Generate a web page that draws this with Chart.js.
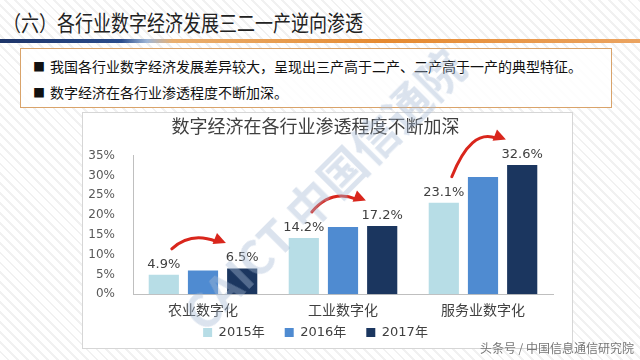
<!DOCTYPE html>
<html>
<head>
<meta charset="utf-8">
<script src="https://cdn.jsdelivr.net/npm/chart.js@4.4.1/dist/chart.umd.min.js"></script>
<style>
  html, body { margin: 0; padding: 0; }
  body {
    width: 640px; height: 360px; overflow: hidden; position: relative;
    background: repeating-linear-gradient(45deg, #ffffff 0 5px, #f1f1f1 5px 7px);
    font-family: "Noto Sans CJK SC", sans-serif;
  }
  #title {
    position: absolute; left: 3px; top: 6px;
    font-size: 18px; color: #222; letter-spacing: 0;
    transform: scaleY(1.18); transform-origin: left top;
  }
  #rule {
    position: absolute; left: 0; top: 39px; width: 640px; height: 4px;
    background: linear-gradient(90deg, #1d3468 0, #2b4d8c 19%, #9fb6d6 23%, #eab070 27%, #e68a30 60%, #eba461 100%);
  }
  #box {
    position: absolute; left: 20px; top: 48px; width: 590px; height: 58px;
    border: 1.5px solid #d9a36a; background: rgba(255,255,255,0.85);
    font-size: 14px; color: #111;
  }
  #box div { position: absolute; left: 12px; white-space: nowrap; }
  #box span { display: inline-block; width: 17px; font-size: 12px; }
  #panel {
    position: absolute; left: 82px; top: 112px; width: 489px; height: 235px;
    background: #fff; border: 1px solid #d6d6d6;
  }
  #wrap { position: absolute; left: 78px; top: 112px; width: 497px; height: 252px; }
  #mark {
    position: absolute; left: 322px; top: 188px; font-size: 46px; font-weight: bold;
    color: rgba(165, 185, 212, 0.4); white-space: nowrap;
    transform: translate(-50%, -50%) rotate(-45deg);
  }
  #foot {
    position: absolute; right: 6px; bottom: 4px; font-size: 12px; color: #777;
  }
</style>
</head>
<body>
<div id="title">（六）各行业数字经济发展三二一产逆向渗透</div>
<div id="rule"></div>
<div id="box">
  <div style="top:7px"><span>■</span>我国各行业数字经济发展差异较大，呈现出三产高于二产、二产高于一产的典型特征。</div>
  <div style="top:33px"><span>■</span>数字经济在各行业渗透程度不断加深。</div>
</div>
<div id="panel"></div>
<div id="wrap"><canvas id="chart"></canvas></div>
<div id="mark">CAICT 中国信通院</div>
<div id="foot">头条号 / 中国信息通信研究院</div>
<script>
const categories = ['农业数字化', '工业数字化', '服务业数字化'];
const years = ['2015年', '2016年', '2017年'];
const values2015 = [4.9, 14.2, 23.1];
const values2016 = [6.0, 17.0, 29.6];
const values2017 = [6.5, 17.2, 32.6];
const yMax = 35;
const yStep = 5;

Chart.defaults.font.family = "'DejaVu Sans', 'Noto Sans CJK SC', sans-serif";
Chart.defaults.color = '#404040';

// value labels on first and last year, red arrow between them
const growthArrows = {
    id: 'growthArrows',
    afterLayout(chart) {
        // legend sits tight under the category labels
        chart.legend.top -= 15;
        chart.legend.bottom -= 15;
    },
    afterDatasetsDraw(chart) {
        const ctx = chart.ctx;
        const first = chart.getDatasetMeta(0);
        const last = chart.getDatasetMeta(2);
        ctx.save();
        ctx.font = "13px 'DejaVu Sans'";
        ctx.textAlign = 'center';
        ctx.textBaseline = 'bottom';
        categories.forEach((c, i) => {
            const a = first.data[i], b = last.data[i];
            ctx.fillStyle = '#404040';
            ctx.fillText(values2015[i].toFixed(1) + '%', a.x, a.y - 4);
            ctx.fillText(values2017[i].toFixed(1) + '%', b.x, b.y - 4);
            const x0 = a.x + 8, y0 = a.y - 26;
            const x1 = b.x - 20, y1 = b.y - 27;
            const cx = (x0 + x1) / 2 - 6, cy = Math.min(y0, y1) - 10;
            ctx.strokeStyle = '#d9261c';
            ctx.lineWidth = 3;
            ctx.lineCap = 'round';
            ctx.beginPath();
            ctx.moveTo(x0, y0);
            ctx.quadraticCurveTo(cx, cy, x1 - 6, y1);
            ctx.stroke();
            const ang = Math.atan2(y1 - cy, x1 - 6 - cx);
            ctx.fillStyle = '#d9261c';
            ctx.beginPath();
            ctx.moveTo(x1 + 4 * Math.cos(ang), y1 + 4 * Math.sin(ang));
            ctx.lineTo(x1 - 8 * Math.cos(ang) - 6 * Math.sin(ang), y1 - 8 * Math.sin(ang) + 6 * Math.cos(ang));
            ctx.lineTo(x1 - 8 * Math.cos(ang) + 6 * Math.sin(ang), y1 - 8 * Math.sin(ang) - 6 * Math.cos(ang));
            ctx.closePath();
            ctx.fill();
        });
        ctx.restore();
    }
};

new Chart(document.getElementById('chart'), {
    type: 'bar',
    data: {
        labels: categories,
        datasets: [
            { label: years[0], data: values2015, backgroundColor: '#b7dde6' },
            { label: years[1], data: values2016, backgroundColor: '#4f8bd1' },
            { label: years[2], data: values2017, backgroundColor: '#1b365f' }
        ]
    },
    options: {
        responsive: true,
        maintainAspectRatio: false,
        animation: false,
        layout: { padding: { left: 0, right: 22, top: 0, bottom: 0 } },
        datasets: { bar: { categoryPercentage: 0.84, barPercentage: 0.77 } },
        scales: {
            x: {
                grid: { display: false },
                border: { display: true, color: '#bfbfbf' },
                ticks: { font: { size: 14 }, color: '#404040', padding: 1 }
            },
            y: {
                min: 0,
                max: yMax,
                grid: { display: false },
                border: { display: true, color: '#bfbfbf' },
                ticks: {
                    stepSize: yStep,
                    autoSkip: false,
                    font: { size: 12 },
                    color: '#595959',
                    padding: 10,
                    callback: v => v + '%'
                },
                afterFit(scale) { scale.width = 55; }
            }
        },
        plugins: {
            title: {
                display: true,
                text: '数字经济在各行业渗透程度不断加深',
                font: { size: 18, weight: 'normal', family: "'Noto Sans CJK SC'" },
                color: '#404040',
                padding: { top: 3, bottom: 19 }
            },
            legend: {
                position: 'bottom',
                labels: { boxWidth: 9, boxHeight: 9, padding: 20, font: { size: 13 }, color: '#404040' }
            },
            tooltip: { enabled: false }
        }
    },
    plugins: [growthArrows]
});
</script>
</body>
</html>
